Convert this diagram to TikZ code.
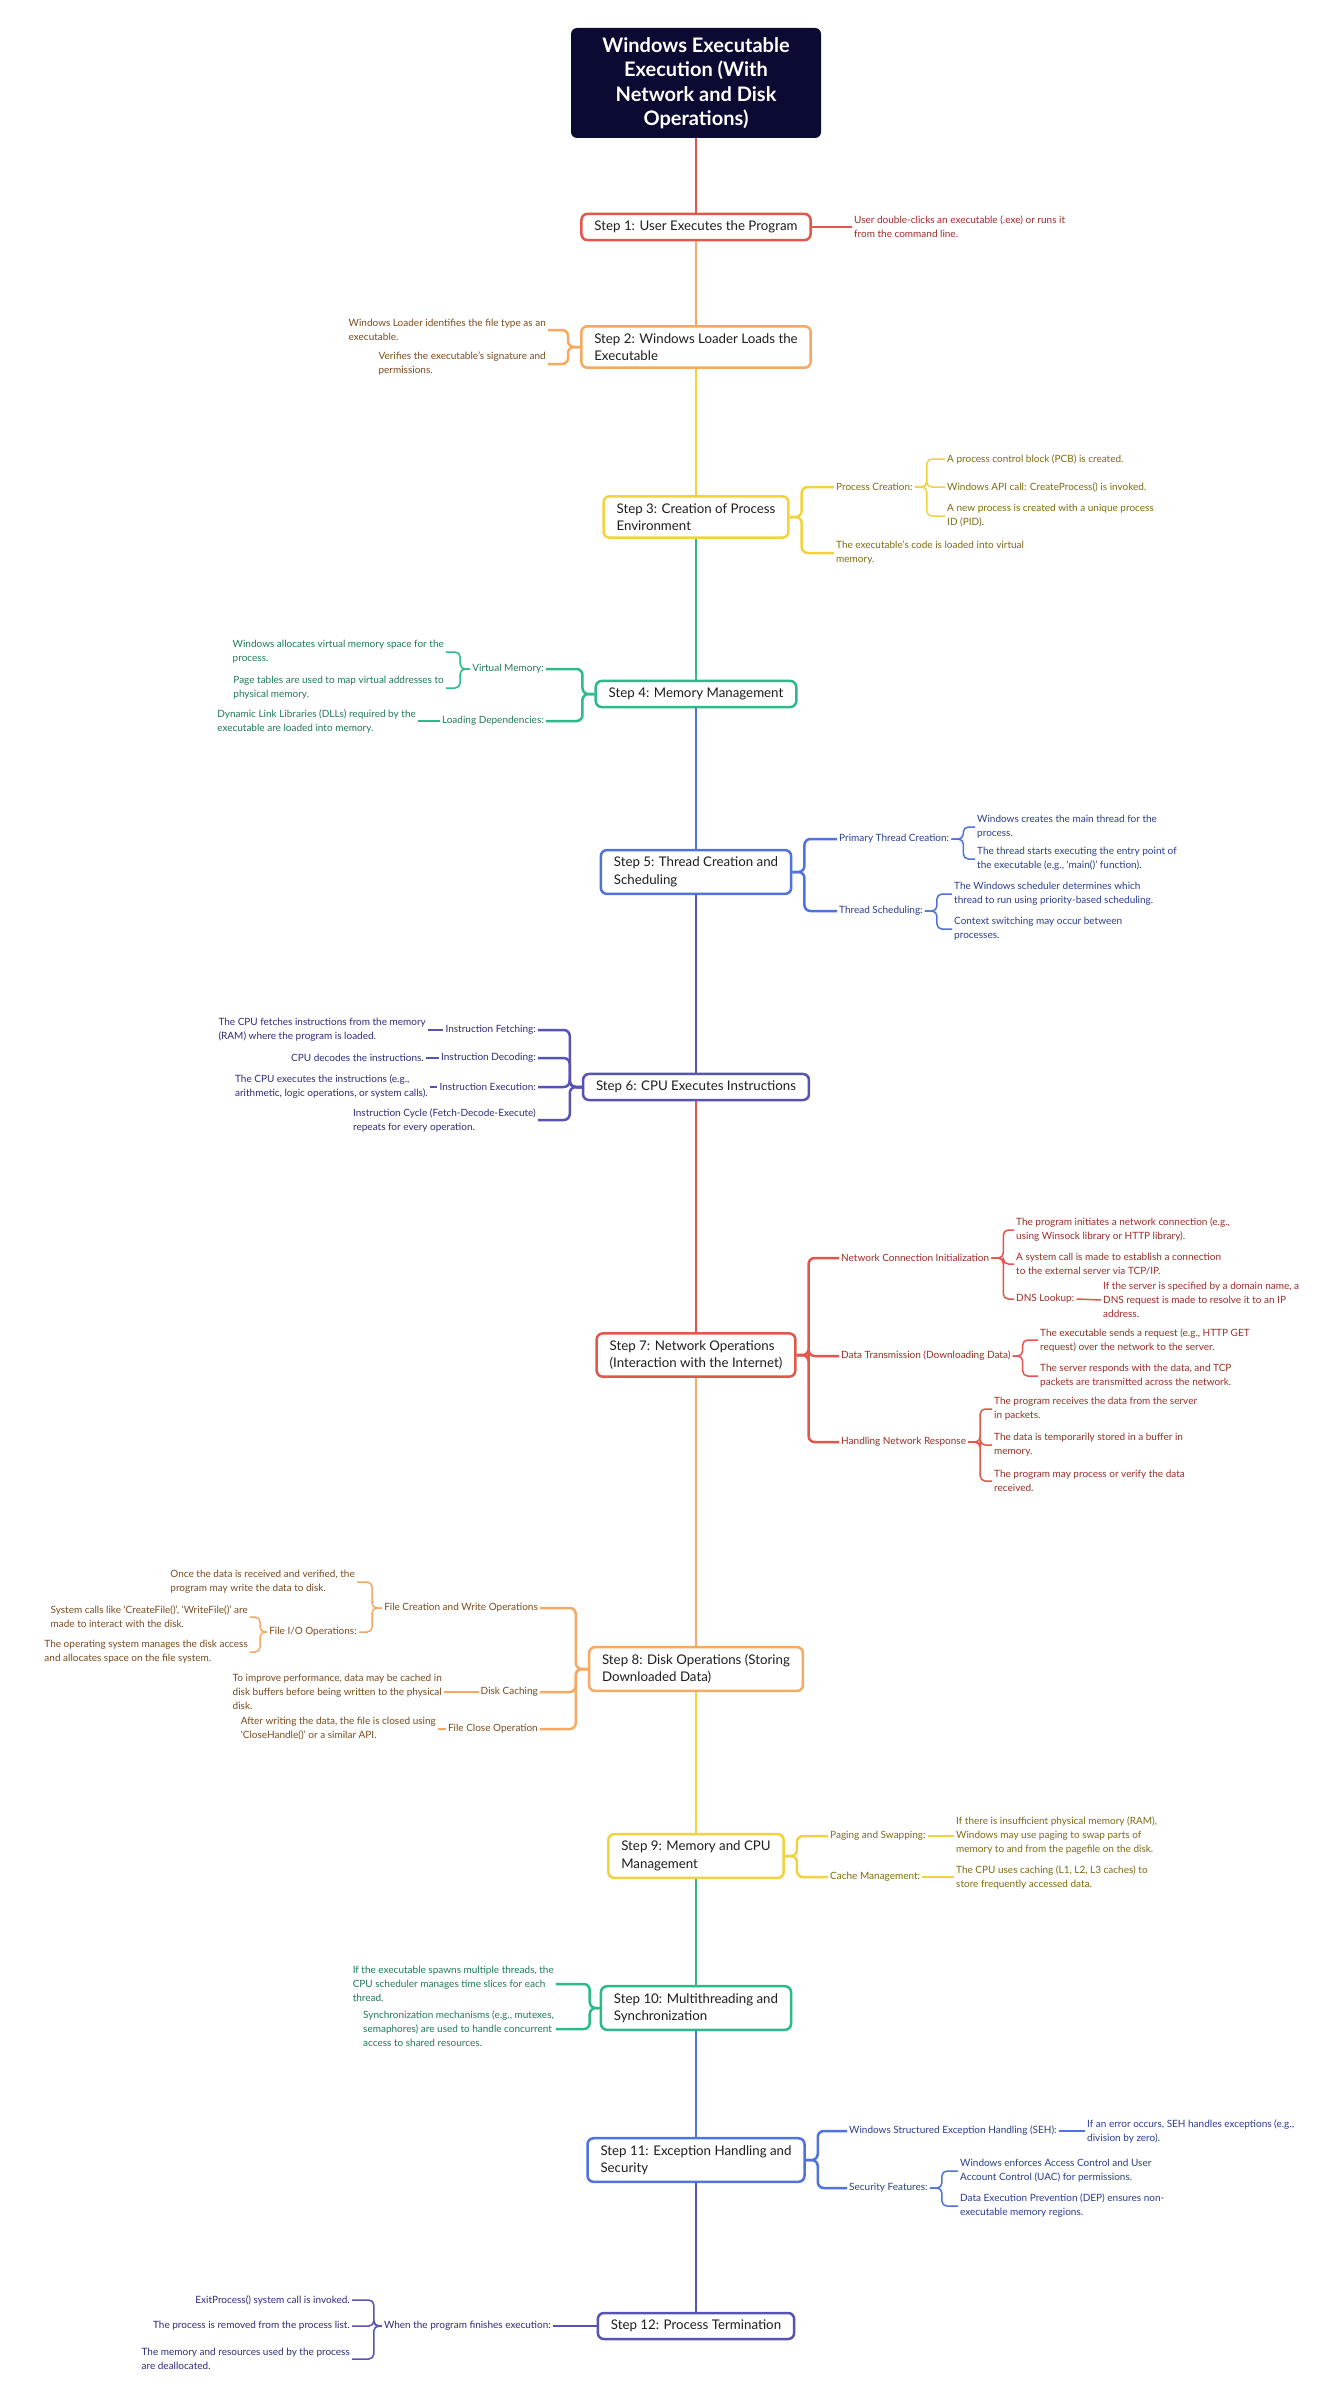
\documentclass[tikz,border=0pt]{standalone}
\usepackage{fontspec}
\setmainfont{Lato}
\usepackage{xcolor}
\usepackage{tikz}
\definecolor{redln}{HTML}{E2574C}
\definecolor{redtx}{HTML}{9A2E27}
\definecolor{oraln}{HTML}{F5A962}
\definecolor{oratx}{HTML}{7B4B1E}
\definecolor{yelln}{HTML}{F2D33F}
\definecolor{yeltx}{HTML}{7D6B12}
\definecolor{grnln}{HTML}{2BBA88}
\definecolor{grntx}{HTML}{1F7A59}
\definecolor{bluln}{HTML}{4F72DD}
\definecolor{blutx}{HTML}{2A3E91}
\definecolor{indln}{HTML}{5753B5}
\definecolor{indtx}{HTML}{2E2C7C}
\definecolor{titlebg}{HTML}{0A0A33}
\definecolor{stepink}{HTML}{1E1E1E}
\begin{document}
\begin{tikzpicture}[x=1pt, y=-1pt,
				stepbox/.style={draw=#1, line width=2.5pt, rounded corners=6pt, fill=white, align=left,
					inner xsep=13pt, inner ysep=7pt, text=stepink, font=\fontsize{13.3}{17.5}\selectfont},
				note/.style={text=#1, align=left, inner sep=2pt, font=\fontsize{10}{14}\selectfont},
				spine/.style={draw=#1, line width=2.5pt},
				link/.style={draw=#1, line width=2.5pt, rounded corners=6pt},
				sublink/.style={draw=#1, line width=1.5pt, rounded corners=5pt}]
				\useasboundingbox[fill=white] (0,0) rectangle (1337,2400);
				\node at (696,83) (t) [fill=titlebg, rounded corners=6pt, text=white, align=center, minimum width=250pt, minimum height=110pt, font=\fontsize{20}{24.5}\selectfont\bfseries] {Windows Executable\\Execution (With\\Network and Disk\\Operations)};
				\node at (696,227) (s1) [stepbox=redln] {Step 1: User Executes the Program};
				\node at (696,347) (s2) [stepbox=oraln] {Step 2: Windows Loader Loads the\\Executable};
				\node at (696,517) (s3) [stepbox=yelln] {Step 3: Creation of Process\\Environment};
				\node at (696,694) (s4) [stepbox=grnln] {Step 4: Memory Management};
				\node at (696,872) (s5) [stepbox=bluln] {Step 5: Thread Creation and\\Scheduling};
				\node at (696,1087) (s6) [stepbox=indln] {Step 6: CPU Executes Instructions};
				\node at (696,1355) (s7) [stepbox=redln] {Step 7: Network Operations\\(Interaction with the Internet)};
				\node at (696,1669) (s8) [stepbox=oraln] {Step 8: Disk Operations (Storing\\Downloaded Data)};
				\node at (696,1856) (s9) [stepbox=yelln] {Step 9: Memory and CPU\\Management};
				\node at (696,2008) (s10) [stepbox=grnln] {Step 10: Multithreading and\\Synchronization};
				\node at (696,2160) (s11) [stepbox=bluln] {Step 11: Exception Handling and\\Security};
				\node at (696,2326) (s12) [stepbox=indln] {Step 12: Process Termination};
				\draw[spine=redln] (t) -- (s1);
				\draw[spine=oraln] (s1) -- (s2);
				\draw[spine=yelln] (s2) -- (s3);
				\draw[spine=grnln] (s3) -- (s4);
				\draw[spine=bluln] (s4) -- (s5);
				\draw[spine=indln] (s5) -- (s6);
				\draw[spine=redln] (s6) -- (s7);
				\draw[spine=oraln] (s7) -- (s8);
				\draw[spine=yelln] (s8) -- (s9);
				\draw[spine=grnln] (s9) -- (s10);
				\draw[spine=bluln] (s10) -- (s11);
				\draw[spine=indln] (s11) -- (s12);
				% step 1
				\node at (852,227) (s1a) [note=redtx, anchor=west] {User double-clicks an executable (.exe) or runs it\\from the command line.};
				\draw[link=redln] (s1.east) -- (s1a.west);
				% step 2
				\node at (548,330) (s2a) [note=oratx, anchor=east] {Windows Loader identifies the file type as an\\executable.};
				\node at (548,364) (s2b) [note=oratx, anchor=east] {Verifies the executable's signature and\\permissions.};
				\draw[link=oraln] (s2.west) -- ++(-12,0) |- (s2a.east);
				\draw[link=oraln] (s2.west) -- ++(-12,0) |- (s2b.east);
				% step 3
				\node at (834,487) (s3a) [note=yeltx, anchor=west] {Process Creation:};
				\node at (945,459) (s3a1) [note=yeltx, anchor=west] {A process control block (PCB) is created.};
				\node at (945,487) (s3a2) [note=yeltx, anchor=west] {Windows API call: CreateProcess() is invoked.};
				\node at (945,516) (s3a3) [note=yeltx, anchor=west] {A new process is created with a unique process\\ID (PID).};
				\node at (834,553) (s3b) [note=yeltx, anchor=west] {The executable's code is loaded into virtual\\memory.};
				\draw[link=yelln] (s3.east) -- ++(12,0) |- (s3a.west);
				\draw[link=yelln] (s3.east) -- ++(12,0) |- (s3b.west);
				\draw[sublink=yelln] (s3a.east) -- ++(12,0) |- (s3a1.west);
				\draw[sublink=yelln] (s3a.east) -- ++(12,0) |- (s3a2.west);
				\draw[sublink=yelln] (s3a.east) -- ++(12,0) |- (s3a3.west);
				% step 4
				\node at (546,669) (s4a) [note=grntx, anchor=east] {Virtual Memory:};
				\node at (446,652) (s4a1) [note=grntx, anchor=east] {Windows allocates virtual memory space for the\\process.};
				\node at (446,688) (s4a2) [note=grntx, anchor=east] {Page tables are used to map virtual addresses to\\physical memory.};
				\node at (546,721) (s4b) [note=grntx, anchor=east] {Loading Dependencies:};
				\node at (418,721) (s4b1) [note=grntx, anchor=east] {Dynamic Link Libraries (DLLs) required by the\\executable are loaded into memory.};
				\draw[link=grnln] (s4.west) -- ++(-12,0) |- (s4a.east);
				\draw[link=grnln] (s4.west) -- ++(-12,0) |- (s4b.east);
				\draw[sublink=grnln] (s4a.west) -- ++(-10,0) |- (s4a1.east);
				\draw[sublink=grnln] (s4a.west) -- ++(-10,0) |- (s4a2.east);
				\draw[sublink=grnln] (s4b.west) -- (s4b1.east);
				% step 5
				\node at (837,839) (s5a) [note=blutx, anchor=west] {Primary Thread Creation:};
				\node at (975,827) (s5a1) [note=blutx, anchor=west] {Windows creates the main thread for the\\process.};
				\node at (975,859) (s5a2) [note=blutx, anchor=west] {The thread starts executing the entry point of\\the executable (e.g., `main()' function).};
				\node at (837,911) (s5b) [note=blutx, anchor=west] {Thread Scheduling:};
				\node at (952,894) (s5b1) [note=blutx, anchor=west] {The Windows scheduler determines which\\thread to run using priority-based scheduling.};
				\node at (952,929) (s5b2) [note=blutx, anchor=west] {Context switching may occur between\\processes.};
				\draw[link=bluln] (s5.east) -- ++(12,0) |- (s5a.west);
				\draw[link=bluln] (s5.east) -- ++(12,0) |- (s5b.west);
				\draw[sublink=bluln] (s5a.east) -- ++(12,0) |- (s5a1.west);
				\draw[sublink=bluln] (s5a.east) -- ++(12,0) |- (s5a2.west);
				\draw[sublink=bluln] (s5b.east) -- ++(12,0) |- (s5b1.west);
				\draw[sublink=bluln] (s5b.east) -- ++(12,0) |- (s5b2.west);
				% step 6
				\node at (538,1030) (s6a) [note=indtx, anchor=east] {Instruction Fetching:};
				\node at (428,1030) (s6a1) [note=indtx, anchor=east] {The CPU fetches instructions from the memory\\(RAM) where the program is loaded.};
				\node at (538,1058) (s6b) [note=indtx, anchor=east] {Instruction Decoding:};
				\node at (426,1058) (s6b1) [note=indtx, anchor=east] {CPU decodes the instructions.};
				\node at (538,1087) (s6c) [note=indtx, anchor=east] {Instruction Execution:};
				\node at (430,1087) (s6c1) [note=indtx, anchor=east] {The CPU executes the instructions (e.g.,\\arithmetic, logic operations, or system calls).};
				\node at (538,1120) (s6d) [note=indtx, anchor=east] {Instruction Cycle (Fetch-Decode-Execute)\\repeats for every operation.};
				\draw[link=indln] (s6.west) -- ++(-12,0) |- (s6a.east);
				\draw[link=indln] (s6.west) -- ++(-12,0) |- (s6b.east);
				\draw[link=indln] (s6.west) -- ++(-12,0) |- (s6c.east);
				\draw[link=indln] (s6.west) -- ++(-12,0) |- (s6d.east);
				\draw[sublink=indln] (s6a.west) -- (s6a1.east);
				\draw[sublink=indln] (s6b.west) -- (s6b1.east);
				\draw[sublink=indln] (s6c.west) -- (s6c1.east);
				% step 7
				\node at (839,1258) (s7a) [note=redtx, anchor=west] {Network Connection Initialization};
				\node at (1014,1230) (s7a1) [note=redtx, anchor=west] {The program initiates a network connection (e.g.,\\using Winsock library or HTTP library).};
				\node at (1014,1264) (s7a2) [note=redtx, anchor=west] {A system call is made to establish a connection\\to the external server via TCP/IP.};
				\node at (1014,1299) (s7a3) [note=redtx, anchor=west] {DNS Lookup:};
				\node at (1101,1300) (s7a31) [note=redtx, anchor=west] {If the server is specified by a domain name, a\\DNS request is made to resolve it to an IP\\address.};
				\node at (839,1356) (s7b) [note=redtx, anchor=west] {Data Transmission (Downloading Data)};
				\node at (1038,1340) (s7b1) [note=redtx, anchor=west] {The executable sends a request (e.g., HTTP GET\\request) over the network to the server.};
				\node at (1038,1376) (s7b2) [note=redtx, anchor=west] {The server responds with the data, and TCP\\packets are transmitted across the network.};
				\node at (839,1442) (s7c) [note=redtx, anchor=west] {Handling Network Response};
				\node at (992,1409) (s7c1) [note=redtx, anchor=west] {The program receives the data from the server\\in packets.};
				\node at (992,1445) (s7c2) [note=redtx, anchor=west] {The data is temporarily stored in a buffer in\\memory.};
				\node at (992,1481) (s7c3) [note=redtx, anchor=west] {The program may process or verify the data\\received.};
				\draw[link=redln] (s7.east) -- ++(12,0) |- (s7a.west);
				\draw[link=redln] (s7.east) -- ++(12,0) |- (s7b.west);
				\draw[link=redln] (s7.east) -- ++(12,0) |- (s7c.west);
				\draw[sublink=redln] (s7a.east) -- ++(12,0) |- (s7a1.west);
				\draw[sublink=redln] (s7a.east) -- ++(12,0) |- (s7a2.west);
				\draw[sublink=redln] (s7a.east) -- ++(12,0) |- (s7a3.west);
				\draw[sublink=redln] (s7a3.east) -- (s7a31.west);
				\draw[sublink=redln] (s7b.east) -- ++(10,0) |- (s7b1.west);
				\draw[sublink=redln] (s7b.east) -- ++(10,0) |- (s7b2.west);
				\draw[sublink=redln] (s7c.east) -- ++(12,0) |- (s7c1.west);
				\draw[sublink=redln] (s7c.east) -- ++(12,0) |- (s7c2.west);
				\draw[sublink=redln] (s7c.east) -- ++(12,0) |- (s7c3.west);
				% step 8
				\node at (540,1608) (s8a) [note=oratx, anchor=east] {File Creation and Write Operations};
				\node at (357,1582) (s8a1) [note=oratx, anchor=east] {Once the data is received and verified, the\\program may write the data to disk.};
				\node at (359,1632) (s8a2) [note=oratx, anchor=east] {File I/O Operations:};
				\node at (250,1617) (s8a21) [note=oratx, anchor=east] {System calls like `CreateFile()', `WriteFile()' are\\made to interact with the disk.};
				\node at (250,1652) (s8a22) [note=oratx, anchor=east] {The operating system manages the disk access\\and allocates space on the file system.};
				\node at (540,1692) (s8b) [note=oratx, anchor=east] {Disk Caching};
				\node at (444,1692) (s8b1) [note=oratx, anchor=east] {To improve performance, data may be cached in\\disk buffers before being written to the physical\\disk.};
				\node at (540,1729) (s8c) [note=oratx, anchor=east] {File Close Operation};
				\node at (438,1729) (s8c1) [note=oratx, anchor=east] {After writing the data, the file is closed using\\`CloseHandle()' or a similar API.};
				\draw[link=oraln] (s8.west) -- ++(-12,0) |- (s8a.east);
				\draw[link=oraln] (s8.west) -- ++(-12,0) |- (s8b.east);
				\draw[link=oraln] (s8.west) -- ++(-12,0) |- (s8c.east);
				\draw[sublink=oraln] (s8a.west) -- ++(-10,0) |- (s8a1.east);
				\draw[sublink=oraln] (s8a.west) -- ++(-10,0) |- (s8a2.east);
				\draw[sublink=oraln] (s8a2.west) -- ++(-7,0) |- (s8a21.east);
				\draw[sublink=oraln] (s8a2.west) -- ++(-7,0) |- (s8a22.east);
				\draw[sublink=oraln] (s8b.west) -- (s8b1.east);
				\draw[sublink=oraln] (s8c.west) -- (s8c1.east);
				% step 9
				\node at (828,1836) (s9a) [note=yeltx, anchor=west] {Paging and Swapping:};
				\node at (954,1836) (s9a1) [note=yeltx, anchor=west] {If there is insufficient physical memory (RAM),\\Windows may use paging to swap parts of\\memory to and from the pagefile on the disk.};
				\node at (828,1877) (s9b) [note=yeltx, anchor=west] {Cache Management:};
				\node at (954,1877) (s9b1) [note=yeltx, anchor=west] {The CPU uses caching (L1, L2, L3 caches) to\\store frequently accessed data.};
				\draw[link=yelln] (s9.east) -- ++(12,0) |- (s9a.west);
				\draw[link=yelln] (s9.east) -- ++(12,0) |- (s9b.west);
				\draw[sublink=yelln] (s9a.east) -- (s9a1.west);
				\draw[sublink=yelln] (s9b.east) -- (s9b1.west);
				% step 10
				\node at (556,1984) (s10a) [note=grntx, anchor=east] {If the executable spawns multiple threads, the\\CPU scheduler manages time slices for each\\thread.};
				\node at (556,2029) (s10b) [note=grntx, anchor=east] {Synchronization mechanisms (e.g., mutexes,\\semaphores) are used to handle concurrent\\access to shared resources.};
				\draw[link=grnln] (s10.west) -- ++(-10,0) |- (s10a.east);
				\draw[link=grnln] (s10.west) -- ++(-10,0) |- (s10b.east);
				% step 11
				\node at (847,2131) (s11a) [note=blutx, anchor=west] {Windows Structured Exception Handling (SEH):};
				\node at (1085,2131) (s11a1) [note=blutx, anchor=west] {If an error occurs, SEH handles exceptions (e.g.,\\division by zero).};
				\node at (847,2188) (s11b) [note=blutx, anchor=west] {Security Features:};
				\node at (958,2171) (s11b1) [note=blutx, anchor=west] {Windows enforces Access Control and User\\Account Control (UAC) for permissions.};
				\node at (958,2206) (s11b2) [note=blutx, anchor=west] {Data Execution Prevention (DEP) ensures non-\\executable memory regions.};
				\draw[link=bluln] (s11.east) -- ++(12,0) |- (s11a.west);
				\draw[link=bluln] (s11.east) -- ++(12,0) |- (s11b.west);
				\draw[sublink=bluln] (s11a.east) -- (s11a1.west);
				\draw[sublink=bluln] (s11b.east) -- ++(12,0) |- (s11b1.west);
				\draw[sublink=bluln] (s11b.east) -- ++(12,0) |- (s11b2.west);
				% step 12
				\node at (553,2326) (s12a) [note=indtx, anchor=east] {When the program finishes execution:};
				\node at (352,2300) (s12a1) [note=indtx, anchor=east] {ExitProcess() system call is invoked.};
				\node at (352,2326) (s12a2) [note=indtx, anchor=east] {The process is removed from the process list.};
				\node at (352,2359) (s12a3) [note=indtx, anchor=east] {The memory and resources used by the process\\are deallocated.};
				\draw[link=indln] (s12.west) -- (s12a.east);
				\draw[sublink=indln] (s12a.west) -- ++(-8,0) |- (s12a1.east);
				\draw[sublink=indln] (s12a.west) -- ++(-8,0) |- (s12a2.east);
				\draw[sublink=indln] (s12a.west) -- ++(-8,0) |- (s12a3.east);
			\end{tikzpicture}
\end{document}
